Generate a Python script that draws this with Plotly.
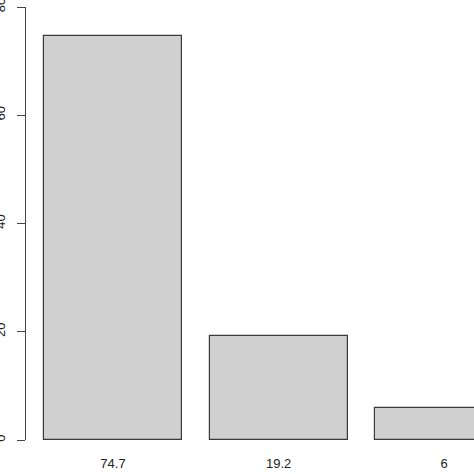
import plotly.graph_objects as go

categories = ["74.7", "19.2", "6"]
values = [74.7, 19.2, 6.0]
y_ticks = [0, 20, 40, 60, 80]

# R barplot layout: width 1, space 0.2
bar_width = 1.0
space = 0.2
centers = [space * (i + 1) + bar_width * i + bar_width / 2 for i in range(len(values))]

W = H = 474
fig = go.Figure()
fig.add_trace(go.Bar(
    x=centers, y=values, width=bar_width,
    marker=dict(color="#d0d0d0", line=dict(color="#3a3a3a", width=1.2)),
    showlegend=False, hoverinfo="skip",
))

font = dict(family="Liberation Sans, Arial, Helvetica, sans-serif", size=13, color="#222")

fig.update_layout(
    width=W, height=H,
    margin=dict(l=0, r=0, t=0, b=0),
    paper_bgcolor="white", plot_bgcolor="white",
    font=font,
    bargap=0,
    xaxis=dict(
        range=[-16.4 / 138, (W - 16.4) / 138],
        domain=[0, 1],
        tickmode="array", tickvals=centers, ticktext=categories,
        showline=False, showgrid=False, zeroline=False, ticks="",
        ticklabelstandoff=14, ticklabeloverflow="allow",
        tickfont=font, automargin=False,
    ),
    yaxis=dict(
        range=[0, 80],
        domain=[(H - 440) / H, (H - 7) / H],
        anchor="free", position=24.5 / W,
        tickmode="array", tickvals=y_ticks,
        ticks="outside", ticklen=8, tickwidth=1, tickcolor="#444",
        showline=True, linecolor="#444", linewidth=1,
        showgrid=False, zeroline=False,
        tickangle=-90, tickfont=font, automargin=False,
        ticklabelstandoff=6, ticklabeloverflow="allow",
    ),
)

fig.write_html(
    "out.html",
    config={"displayModeBar": False},
    post_script="document.body.style.margin='0';document.body.style.overflow='hidden';",
)
